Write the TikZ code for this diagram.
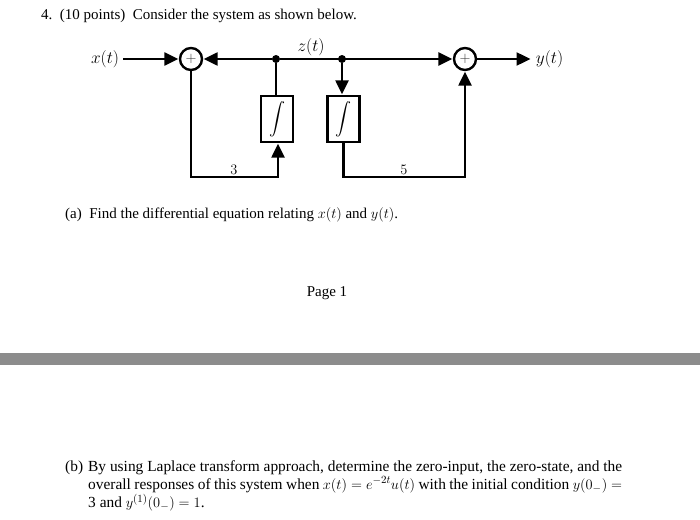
\documentclass[tikz,border=0pt]{standalone}
\usepackage{amsmath,amssymb}
\usepackage{fontspec}
\setmainfont{Liberation Serif}
\usetikzlibrary{arrows.meta}

\tikzset{
  sig/.style={line width=2.4pt},
  sigarrow/.style={sig,-{Triangle[length=14pt,width=13pt]},shorten >=0.5pt},
  adder/.style={circle,draw,line width=2.4pt,minimum size=22pt,inner sep=0pt,font=\fontsize{15}{15}\selectfont,text=black!80},
  intbox/.style={rectangle,draw,line width=2.4pt,minimum width=32pt,minimum height=46pt,inner sep=0pt,font=\fontsize{16}{16}\selectfont},
  dotnode/.style={circle,fill=black,minimum size=8pt,inner sep=0pt},
  siglabel/.style={font=\fontsize{16.5}{16.5}\selectfont},
  numlabel/.style={font=\fontsize{13.5}{13.5}\selectfont},
  txtline/.style={anchor=base west,inner sep=0pt,font=\fontsize{15}{17}\selectfont},
  txtlineb/.style={txtline,font=\fontsize{15.4}{17}\selectfont}
}

\begin{document}
\begin{tikzpicture}[x=1pt,y=-1pt]
	\useasboundingbox (0,0) rectangle (700,519);
	% question heading
	\node[txtline] (head) at (41,19.5) {4.\ \ (10 points)\ \ Consider the system as shown below.};
	% block diagram
	\node[adder] (addone) at (191,59) {$+$};
	\node[adder] (addtwo) at (465,59) {$+$};
	\node[dotnode] (dotone) at (276,59) {};
	\node[dotnode] (dottwo) at (342,59) {};
	\node[intbox] (intone) at (277,119) {$\displaystyle\int$};
	\node[intbox] (inttwo) at (343.5,119) {$\displaystyle\int$};
	\node[siglabel] (xin) at (105,59) {$x(t)$};
	\node[siglabel] (yout) at (549.5,59) {$y(t)$};
	\node[siglabel] (zlab) at (311,47) {$z(t)$};
	\node[numlabel] (three) at (234,169.5) {$3$};
	\node[numlabel] (five) at (404,169.5) {$5$};
	\coordinate (outend) at (531,59);
	\coordinate (cornera) at (191,177);
	\coordinate (cornerb) at (278,177);
	\coordinate (cornerc) at (343.5,177);
	\coordinate (cornerd) at (465,177);
	\draw[sigarrow] (xin) ++(18,0) -- (addone);
	\draw[sigarrow] (dotone) -- (addone);
	\draw[sigarrow] (dotone) -- (addtwo);
	\draw[sigarrow] (addtwo) -- (outend);
	\draw[sig] (dotone) -- (dotone |- intone.north);
	\draw[sigarrow] (dottwo) -- (dottwo |- inttwo.north);
	\draw[sigarrow] (addone) -- (cornera) -- (cornerb) -- (cornerb |- intone.south);
	\draw[sigarrow] (inttwo.south) -- (cornerc) -- (cornerd) -- (addtwo);
	% parts of the question
	\node[txtline] (parta) at (65,218) {(a)\ \ Find the differential equation relating $x(t)$ and $y(t)$.};
	\node[txtline,anchor=base] (page) at (327,296) {Page 1};
	\fill[black!45] (0,353) rectangle (700,365);
	\node[txtlineb] (partb) at (65,471) {(b)};
	\node[txtlineb] (lineone) at (88,471) {\makebox[534pt][s]{By using Laplace transform approach, determine the zero-input, the zero-state, and the}};
	\node[txtlineb] (linetwo) at (88,489) {\makebox[534pt][s]{overall responses of this system when $x(t)=e^{-2t}u(t)$ with the initial condition $y(0_-)=$}};
	\node[txtlineb] (linethree) at (88,507.5) {3 and $y^{(1)}(0_-)=1$.};
	\end{tikzpicture}
\end{document}
